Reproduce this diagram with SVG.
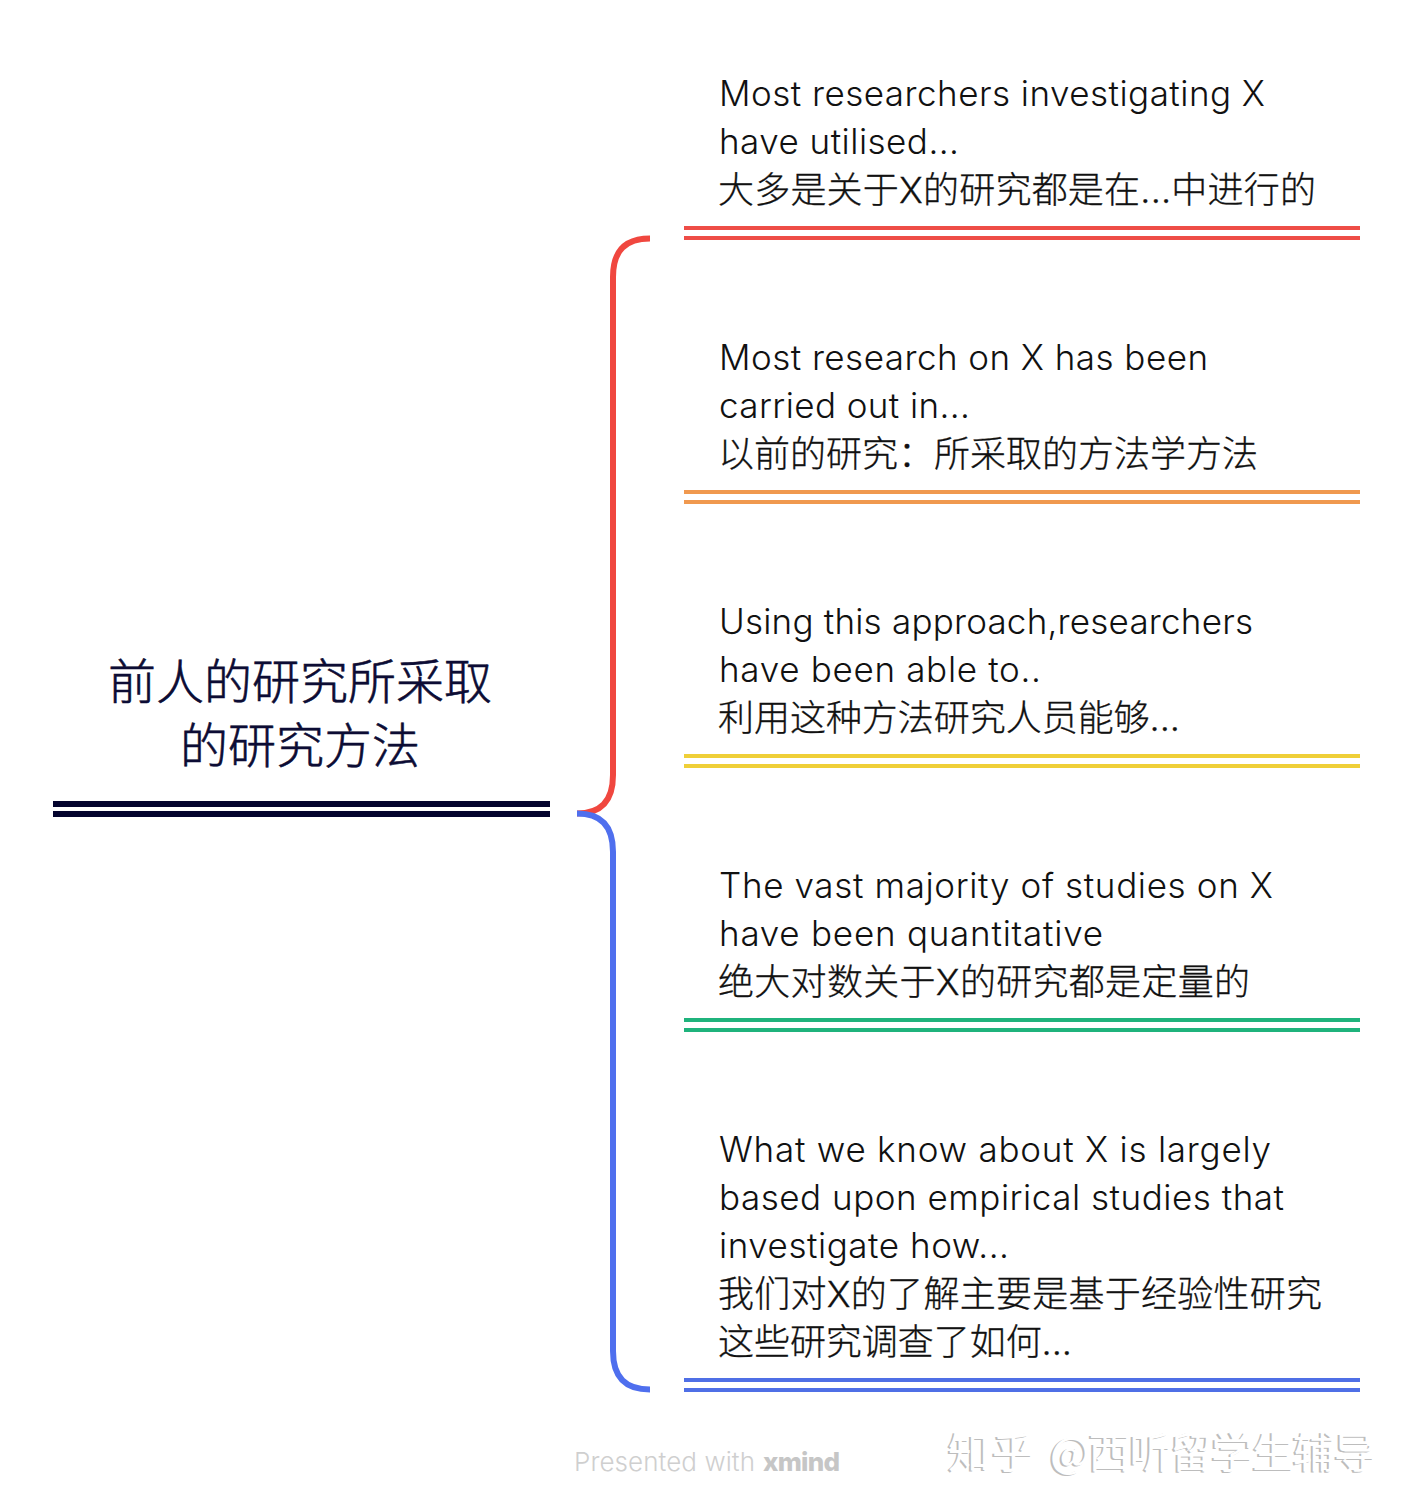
<svg xmlns="http://www.w3.org/2000/svg" width="1410" height="1510" viewBox="0 0 1410 1510">
<style>
text{font-family:"Inter","Noto Sans CJK SC",sans-serif;font-size:35px;fill:#111;font-weight:300}
.cjk{font-family:"Inter","Noto Sans CJK SC",sans-serif;font-size:36px;font-weight:300;fill:#111;stroke:#111;stroke-width:.3px}
.title{font-family:"Noto Sans CJK SC",sans-serif;font-size:48px;fill:#0c0c34;text-anchor:middle;font-weight:300;stroke:#0c0c34;stroke-width:.6px}
.c{fill:none;stroke-width:6}
.wm{font-family:"Noto Sans CJK SC",sans-serif;font-size:42px;fill:#bdbdbd;font-weight:400}
.wh{font-family:"Noto Sans CJK SC",sans-serif;font-size:42px;fill:#fff;font-weight:400}
</style>
<rect width="1410" height="1510" fill="#fff"/>
<g id="connectors">
<path class="c" stroke="#f0473f" d="M577 813.500C600 813.500 613 802 613 775V277C613 250 626 238.500 650 238.500"/>
<path class="c" stroke="#4f6fee" d="M577 813.500C600 813.500 613 825 613 852V1351C613 1378 626 1389.500 650 1389.500"/>
</g>
<g id="root">
<rect x="53" y="801" width="497" height="6" fill="#04042e"/><rect x="53" y="811" width="497" height="6" fill="#04042e"/>
<text class="title" x="300" y="699">前人的研究所采取</text>
<text class="title" x="300" y="763">的研究方法</text>
</g>
<g id="n1" fill="#ee4d47">
<rect x="684" y="226" width="676" height="4"/><rect x="684" y="236" width="676" height="4"/>
<text x="719" y="106" textLength="546">Most researchers investigating X</text>
<text x="719" y="154" textLength="240">have utilised...</text>
<text class="cjk" x="718" y="203" textLength="598">大多是关于X的研究都是在...中进行的</text>
</g>
<g id="n2" fill="#f0994f">
<rect x="684" y="490" width="676" height="4"/><rect x="684" y="500" width="676" height="4"/>
<text x="719" y="370" textLength="489">Most research on X has been</text>
<text x="719" y="418" textLength="251">carried out in...</text>
<text class="cjk" x="718" y="467">以前的研究：所采取的方法学方法</text>
</g>
<g id="n3" fill="#efcf38">
<rect x="684" y="754" width="676" height="4"/><rect x="684" y="764" width="676" height="4"/>
<text x="719" y="634" textLength="534">Using this approach,researchers</text>
<text x="719" y="682" textLength="322">have been able to..</text>
<text class="cjk" x="718" y="731" textLength="462">利用这种方法研究人员能够...</text>
</g>
<g id="n4" fill="#1fb37c">
<rect x="684" y="1018" width="676" height="4"/><rect x="684" y="1028" width="676" height="4"/>
<text x="719" y="898" textLength="554">The vast majority of studies on X</text>
<text x="719" y="946" textLength="384">have been quantitative</text>
<text class="cjk" x="718" y="995" textLength="532">绝大对数关于X的研究都是定量的</text>
</g>
<g id="n5" fill="#4f6fe6">
<rect x="684" y="1378" width="676" height="4"/><rect x="684" y="1388" width="676" height="4"/>
<text x="719" y="1162" textLength="552">What we know about X is largely</text>
<text x="719" y="1210" textLength="565">based upon empirical studies that</text>
<text x="719" y="1258" textLength="290">investigate how...</text>
<text class="cjk" x="718" y="1307" textLength="604">我们对X的了解主要是基于经验性研究</text>
<text class="cjk" x="718" y="1355" textLength="354">这些研究调查了如何...</text>
</g>
<text x="574" y="1471" style="font-size:26px;fill:#cfcfcf;font-weight:300" textLength="181">Presented with</text>
<text x="763" y="1471" style="font-size:26px;fill:#c6c6c6;font-weight:800" textLength="77">xmind</text>
<text class="wm" x="946" y="1469" textLength="86">知乎</text>
<text class="wm" x="1048" y="1469" textLength="326">@西听留学生辅导</text>
<text class="wh" x="948" y="1468" textLength="86">知乎</text>
<text class="wh" x="1050" y="1468" textLength="326">@西听留学生辅导</text>
</svg>
